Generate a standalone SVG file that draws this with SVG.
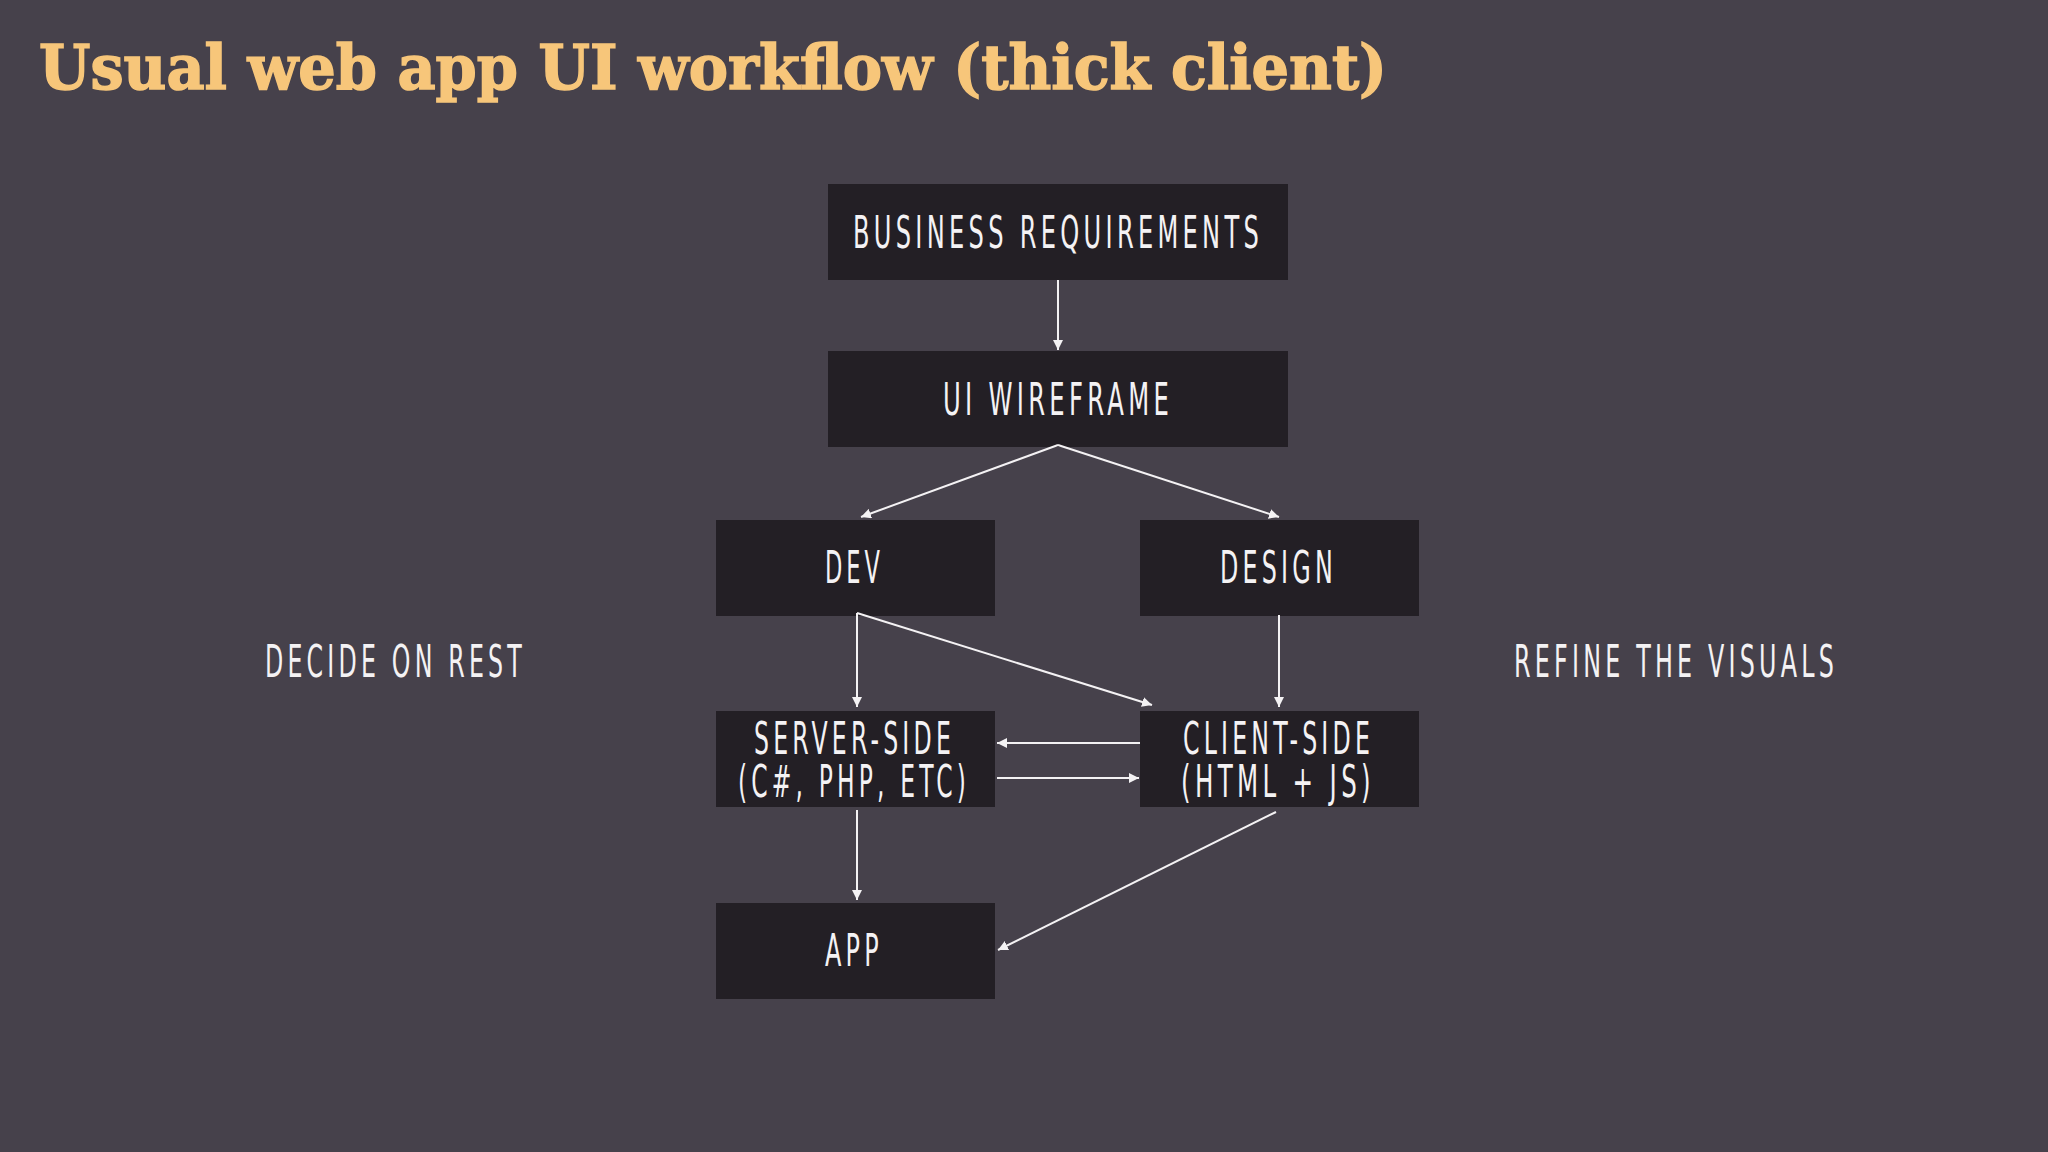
<svg xmlns="http://www.w3.org/2000/svg" width="2048" height="1152" viewBox="0 0 2048 1152">
<defs>
<style>
.bg{fill:#46414b}
.box{fill:#231f25}
.lbl{font-family:"Liberation Sans Narrow","DejaVu Sans Condensed","Liberation Sans",sans-serif;font-size:44px;fill:#f4f2f4;letter-spacing:7px}
.side{font-family:"Liberation Sans Narrow","DejaVu Sans Condensed","Liberation Sans",sans-serif;font-size:44px;fill:#f4f2f4;letter-spacing:7px}
.title{font-family:"DejaVu Serif","Liberation Serif",serif;font-weight:bold;font-size:62px;fill:#f7c67a;stroke:#f7c67a;stroke-width:1.5px}
.conn line{stroke:#f4f2f4;stroke-width:2;fill:none;marker-end:url(#ah)}
</style>
<marker id="ah" viewBox="0 0 10 10" refX="10" refY="5" markerWidth="5" markerHeight="5" markerUnits="strokeWidth" orient="auto">
<path d="M0,0 L10,5 L0,10 z" fill="#f4f2f4"/>
</marker>
</defs>
<rect class="bg" x="0" y="0" width="2048" height="1152"/>
<text class="title" x="39" y="89" textLength="1348" lengthAdjust="spacingAndGlyphs">Usual web app UI workflow (thick client)</text>

<g id="node-business">
<rect class="box" x="828" y="184" width="460" height="96"/>
<text class="lbl" x="853" y="248" textLength="410" lengthAdjust="spacingAndGlyphs">BUSINESS REQUIREMENTS</text>
</g>
<g id="node-wireframe">
<rect class="box" x="828" y="351" width="460" height="96"/>
<text class="lbl" x="943" y="415" textLength="230" lengthAdjust="spacingAndGlyphs">UI WIREFRAME</text>
</g>
<g id="node-dev">
<rect class="box" x="716" y="520" width="279" height="96"/>
<text class="lbl" x="825" y="583" textLength="59" lengthAdjust="spacingAndGlyphs">DEV</text>
</g>
<g id="node-design">
<rect class="box" x="1140" y="520" width="279" height="96"/>
<text class="lbl" x="1220" y="583" textLength="117" lengthAdjust="spacingAndGlyphs">DESIGN</text>
</g>
<g id="node-server">
<rect class="box" x="716" y="711" width="279" height="96"/>
<text class="lbl" x="754" y="754" textLength="201" lengthAdjust="spacingAndGlyphs">SERVER-SIDE</text>
<text class="lbl" x="738" y="797" textLength="232" lengthAdjust="spacingAndGlyphs">(C#, PHP, ETC)</text>
</g>
<g id="node-client">
<rect class="box" x="1140" y="711" width="279" height="96"/>
<text class="lbl" x="1183" y="754" textLength="191" lengthAdjust="spacingAndGlyphs">CLIENT-SIDE</text>
<text class="lbl" x="1181" y="797" textLength="194" lengthAdjust="spacingAndGlyphs">(HTML + JS)</text>
</g>
<g id="node-app">
<rect class="box" x="716" y="903" width="279" height="96"/>
<text class="lbl" x="825" y="966" textLength="58" lengthAdjust="spacingAndGlyphs">APP</text>
</g>
<g id="label-rest">
<text class="side" x="265" y="677" textLength="261" lengthAdjust="spacingAndGlyphs">DECIDE ON REST</text>
</g>
<g id="label-visuals">
<text class="side" x="1514" y="677" textLength="324" lengthAdjust="spacingAndGlyphs">REFINE THE VISUALS</text>
</g>

<g id="connectors" class="conn">
<line x1="1058" y1="280" x2="1058" y2="350"/>
<line x1="1058" y1="445" x2="861" y2="517"/>
<line x1="1058" y1="445" x2="1279" y2="517"/>
<line x1="857" y1="613" x2="857" y2="707"/>
<line x1="857" y1="613" x2="1152" y2="705"/>
<line x1="1279" y1="615" x2="1279" y2="707"/>
<line x1="1140" y1="743" x2="997" y2="743"/>
<line x1="997" y1="778" x2="1139" y2="778"/>
<line x1="857" y1="810" x2="857" y2="900"/>
<line x1="1276" y1="812" x2="998" y2="950"/>
</g>
</svg>
